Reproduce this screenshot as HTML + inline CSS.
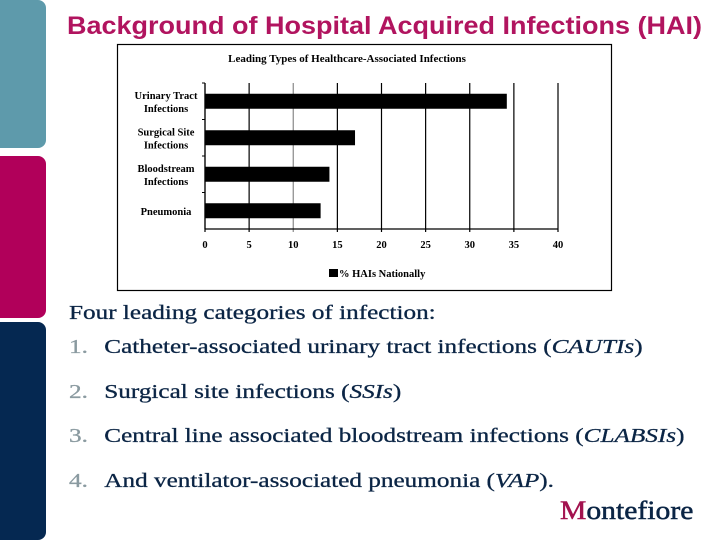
<!DOCTYPE html>
<html><head><meta charset="utf-8"><style>
body{margin:0;width:720px;height:540px;background:#fff;position:relative;overflow:hidden;font-family:"Liberation Serif",serif}
.stripe{position:absolute;left:0;width:46px;border-radius:0 8px 8px 0}
.t{position:absolute;white-space:nowrap}
.li{position:absolute;left:69px;font-size:20px;color:#0b2545;white-space:nowrap;transform:scaleX(1.26);transform-origin:0 0;-webkit-text-stroke:0.3px #0b2545}
.li .n{color:#8a9aa0;display:inline-block;width:28px;-webkit-text-stroke:0.3px #8a9aa0}
</style></head><body>
<div class="stripe" style="top:0;height:148px;background:#5e9aab"></div>
<div class="stripe" style="top:156px;height:162px;background:#b1005a"></div>
<div class="stripe" style="top:322px;height:218px;background:#052851"></div>
<div class="t" style="left:67px;top:12px;font-family:'Liberation Sans',sans-serif;font-weight:bold;font-size:25px;color:#b1145f;transform:scaleX(1.08);transform-origin:0 0">Background of Hospital Acquired Infections (HAI)</div>
<svg id="chart" style="position:absolute;left:0;top:0" width="720" height="540"></svg>
<div class="li" style="top:302px;left:69px">Four leading categories of infection:</div>
<div class="li" style="top:336px"><span class="n">1.</span>Catheter-associated urinary tract infections (<i>CAUTIs</i>)</div>
<div class="li" style="top:381px"><span class="n">2.</span>Surgical site infections (<i>SSIs</i>)</div>
<div class="li" style="top:425px"><span class="n">3.</span>Central line associated bloodstream infections (<i>CLABSIs</i>)</div>
<div class="li" style="top:470px"><span class="n">4.</span>And ventilator-associated pneumonia (<i>VAP</i>).</div>
<div class="t" style="left:560px;top:496px;font-size:26px;color:#0b2545;transform:scaleX(1.14);transform-origin:0 0;-webkit-text-stroke:0.5px #0b2545"><span style="color:#a3124f;-webkit-text-stroke:0.5px #a3124f">M</span>ontefiore</div>
<script>
const categories=[["Urinary Tract","Infections"],["Surgical Site","Infections"],["Bloodstream","Infections"],["Pneumonia"]];
const values=[34.2,17,14.1,13.1];
const ticks=[0,5,10,15,20,25,30,35,40];
const svg=document.getElementById('chart');const NS='http://www.w3.org/2000/svg';
function mk(t,a,txt){const e=document.createElementNS(NS,t);for(const k in a)e.setAttribute(k,a[k]);if(txt!==undefined)e.textContent=txt;svg.appendChild(e);return e;}
const X0=205,X1=558,Y0=83,Y1=229;
const x=v=>X0+(v-0)/(40-0)*(X1-X0);
const band=(Y1-Y0)/categories.length;
const yc=i=>Y0+band*(i+0.5);
const F='Liberation Serif,serif';
let e=mk('rect',{x:117.5,y:44.5,width:494,height:246,fill:'#fff',stroke:'#000','stroke-width':1.2});

e=mk('text',{x:347,y:62,'font-size':11,'font-weight':'bold','text-anchor':'middle','font-family':F},'Leading Types of Healthcare-Associated Infections');

ticks.forEach(t=>{
 const g=mk('line',{x1:x(t),x2:x(t),y1:Y0,y2:Y1+3,stroke:t==10?'#888':'#000','stroke-width':1.2});
 
 const l=mk('text',{x:x(t),y:Y1+19,'font-size':10.5,'font-weight':'bold','text-anchor':'middle','font-family':F},t);
 
});
e=mk('line',{x1:X0,x2:X1,y1:Y1,y2:Y1,stroke:'#000','stroke-width':1.2});
e=mk('line',{x1:X0,x2:X0,y1:Y0,y2:Y1,stroke:'#000','stroke-width':1.2});
categories.forEach((c,i)=>{
 const tk=mk('line',{x1:X0-3,x2:X0,y1:Y0+band*i,y2:Y0+band*i,stroke:'#000'});
 
 const b=mk('rect',{x:X0,y:yc(i)-7.5,width:x(values[i])-X0,height:15,fill:'#000'});
 
 c.forEach((ln,j)=>{
  const t=mk('text',{x:166,y:yc(i)+4-(c.length-1)*6.5+j*13,'font-size':10.5,'font-weight':'bold','text-anchor':'middle','font-family':F},ln);
  
 });
});
e=mk('rect',{x:329,y:269,width:9,height:8,fill:'#000'});
e=mk('text',{x:339,y:277,'font-size':10.5,'font-weight':'bold','font-family':F},'% HAIs Nationally');

</script>
</body></html>
